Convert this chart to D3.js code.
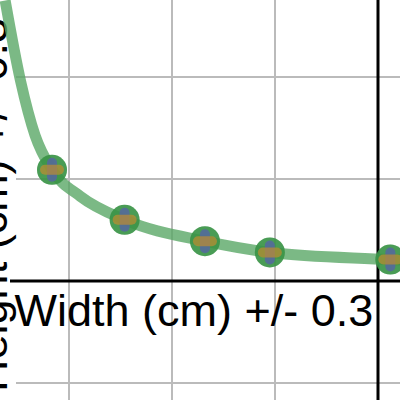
<!DOCTYPE html><html><head><script src="https://cdn.jsdelivr.net/npm/d3@7"></script>
<style>body{margin:0}svg{display:block}</style></head><body><script>
const ptX=[0.835,1.54,2.32,2.95,4.12];
const ptY=[1.09,0.60,0.39,0.28,0.21];
const curveX=[0.38,0.53,0.67,0.835,1.11,1.54,2.32,2.95,4.12,4.3];
const curveY=[2.75,1.96,1.43,1.09,0.83,0.60,0.39,0.28,0.21,0.20];
const gridX=[1,2,3,5];const gridY=[-1,1,2];
const W=400,H=400;
const x=d3.scaleLinear().domain([1,4]).range([69,378]);
const y=d3.scaleLinear().domain([0,1]).range([281,179]);
const svg=d3.select("body").append("svg").attr("width",W).attr("height",H);
svg.append("rect").attr("width",W).attr("height",H).attr("fill","#fff");
svg.selectAll(".gx").data(gridX).enter().append("line").attr("x1",d=>x(d)).attr("x2",d=>x(d)).attr("y1",0).attr("y2",H).attr("stroke","#bbb").attr("stroke-width",2);
svg.selectAll(".gy").data(gridY).enter().append("line").attr("x1",16).attr("x2",W).attr("y1",d=>y(d)).attr("y2",d=>y(d)).attr("stroke","#bbb").attr("stroke-width",2);
svg.append("line").attr("x1",x(4)).attr("x2",x(4)).attr("y1",0).attr("y2",H).attr("stroke","#000").attr("stroke-width",3);
svg.append("line").attr("x1",10).attr("x2",W).attr("y1",y(0)).attr("y2",y(0)).attr("stroke","#000").attr("stroke-width",3);
svg.append("text").attr("x",194).attr("y",326).attr("text-anchor","middle").attr("font-family","Liberation Sans, Arial").attr("font-size",45).text("Width (cm) +/- 0.3");
svg.append("text").attr("transform","translate(7,205) rotate(-90)").attr("text-anchor","middle").attr("font-family","Liberation Sans, Arial").attr("font-size",45).text("Height (cm) +/- 0.3");
const line=d3.line().x((d,i)=>x(curveX[i])).y((d,i)=>y(curveY[i])).curve(d3.curveMonotoneX);
svg.append("path").attr("d",line(curveX)).attr("fill","none").attr("stroke","#5aa867").attr("stroke-opacity",0.8).attr("stroke-width",11);
const g=svg.selectAll(".p").data(ptX).enter().append("g").attr("transform",(d,i)=>`translate(${x(d)},${y(ptY[i])})`);
g.append("circle").attr("r",15).attr("fill","#3a9447").attr("fill-opacity",0.9);
g.append("rect").attr("x",-5).attr("y",-12).attr("width",10).attr("height",24).attr("rx",5).attr("fill","#5b5fb0").attr("fill-opacity",0.9);
g.append("rect").attr("x",-12).attr("y",-5).attr("width",24).attr("height",10).attr("rx",5).attr("fill","#e08a2c").attr("fill-opacity",0.7);
g.append("circle").attr("r",15).attr("fill","#3a9447").attr("fill-opacity",0.2);
</script></body></html>
